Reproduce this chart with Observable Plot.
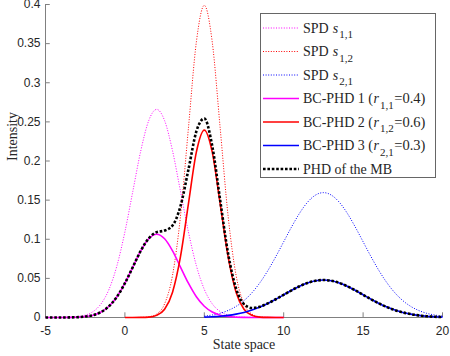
<!DOCTYPE html>
<html><head><meta charset="utf-8">
<script src="https://cdn.jsdelivr.net/npm/d3@7"></script>
<script src="https://cdn.jsdelivr.net/npm/@observablehq/plot@0.6"></script>
<style>body{margin:0;background:#fff} svg{display:block}</style>
</head><body><div id="chart"></div>
<script>
// ---- data ----
const xTicks = [-5, 0, 5, 10, 15, 20];
const yTicks = [0, 0.05, 0.1, 0.15, 0.2, 0.25, 0.3, 0.35, 0.4];

const xMag = [-5,-4.5,-4,-3.5,-3,-2.5,-2,-1.5,-1,-0.5,0,0.5,1,1.5,2,2.5,3,3.5,4,4.5,5,5.5,6,6.5,7,7.5,8,8.5,9,9.5,10];
const s11 = [0,0,0.0001,0.0003,0.001,0.003,0.0076,0.0175,0.036,0.0663,0.1094,0.1613,0.213,0.2516,0.266,0.2516,0.213,0.1613,0.1094,0.0663,0.036,0.0175,0.0076,0.003,0.001,0.0003,0.0001,0,0,0,0];
const r11 = [0,0,0,0.0001,0.0004,0.0012,0.003,0.007,0.0144,0.0265,0.0438,0.0645,0.0852,0.1006,0.1064,0.1006,0.0852,0.0645,0.0438,0.0265,0.0144,0.007,0.003,0.0012,0.0004,0.0001,0,0,0,0,0];

const xRed = [0,0.5,1,1.5,2,2.5,3,3.5,4,4.5,5,5.5,6,6.5,7,7.5,8,8.5,9,9.5,10];
const s12 = [0,0,0.0001,0.0009,0.0044,0.0175,0.054,0.1295,0.242,0.3521,0.3989,0.3521,0.242,0.1295,0.054,0.0175,0.0044,0.0009,0.0001,0,0];
const r12 = [0,0,0.0001,0.0005,0.0027,0.0105,0.0324,0.0777,0.1452,0.2113,0.2394,0.2113,0.1452,0.0777,0.0324,0.0105,0.0027,0.0005,0.0001,0,0];

const xBlue = [5,5.5,6,6.5,7,7.5,8,8.5,9,9.5,10,10.5,11,11.5,12,12.5,13,13.5,14,14.5,15,15.5,16,16.5,17,17.5,18,18.5,19,19.5,20];
const s21 = [0.0018,0.0032,0.0054,0.009,0.0142,0.0216,0.0316,0.0444,0.0599,0.0777,0.0968,0.1159,0.1333,0.1473,0.1564,0.1596,0.1564,0.1473,0.1333,0.1159,0.0968,0.0777,0.0599,0.0444,0.0316,0.0216,0.0142,0.009,0.0054,0.0032,0.0018];
const r21 = [0.0005,0.001,0.0016,0.0027,0.0043,0.0065,0.0095,0.0133,0.018,0.0233,0.029,0.0348,0.04,0.0442,0.0469,0.0479,0.0469,0.0442,0.04,0.0348,0.029,0.0233,0.018,0.0133,0.0095,0.0065,0.0043,0.0027,0.0016,0.001,0.0005];

const xAll = [-5,-4.5,-4,-3.5,-3,-2.5,-2,-1.5,-1,-0.5,0,0.5,1,1.5,2,2.5,3,3.5,4,4.5,5,5.5,6,6.5,7,7.5,8,8.5,9,9.5,10,10.5,11,11.5,12,12.5,13,13.5,14,14.5,15,15.5,16,16.5,17,17.5,18,18.5,19,19.5,20];
const phd = [0,0,0,0.0001,0.0004,0.0012,0.003,0.007,0.0144,0.0265,0.0438,0.0645,0.0853,0.1011,0.1091,0.1111,0.1176,0.1422,0.189,0.2378,0.2543,0.2192,0.1498,0.0816,0.0371,0.0171,0.0122,0.0138,0.0181,0.0233,0.029,0.0348,0.04,0.0442,0.0469,0.0479,0.0469,0.0442,0.04,0.0348,0.029,0.0233,0.018,0.0133,0.0095,0.0065,0.0043,0.0027,0.0016,0.001,0.0005];

// ---- styles ----
const thinDot = {strokeWidth: 1, strokeDasharray: "1 1.6"};
const solid = {strokeWidth: 1.6};
const thickDot = {strokeWidth: 2.6, strokeDasharray: "2.6 1.8"};

const series = [
  {xs: xMag, ys: s11, color: "#ff00ff", st: thinDot, label: [["SPD "], ["s", "i"], ["1,1", "sub"]]},
  {xs: xRed, ys: s12, color: "#ff0000", st: thinDot, label: [["SPD "], ["s", "i"], ["1,2", "sub"]]},
  {xs: xBlue, ys: s21, color: "#0000ff", st: thinDot, label: [["SPD "], ["s", "i"], ["2,1", "sub"]]},
  {xs: xMag, ys: r11, color: "#ff00ff", st: solid, label: [["BC-PHD 1 ("], ["r", "i"], ["1,1", "sub"], ["=0.4)", "up"]]},
  {xs: xRed, ys: r12, color: "#ff0000", st: solid, label: [["BC-PHD 2 ("], ["r", "i"], ["1,2", "sub"], ["=0.6)", "up"]]},
  {xs: xBlue, ys: r21, color: "#0000ff", st: solid, label: [["BC-PHD 3 ("], ["r", "i"], ["2,1", "sub"], ["=0.3)", "up"]]},
  {xs: xAll, ys: phd, color: "#000000", st: thickDot, label: [["PHD of the MB"]]}
];

const axisColor = "#808080";
const textColor = "#262626";
const serif = "'Liberation Serif', 'Times New Roman', serif";

const marks = [
  Plot.ruleY([0], {stroke: axisColor}),
  Plot.ruleX([-5], {stroke: axisColor}),
  Plot.ruleX(xTicks, {x: d => d, y1: 0, y2: 0.006, stroke: axisColor}),
  Plot.ruleY(yTicks, {y: d => d, x1: -5, x2: -4.7, stroke: axisColor}),
  Plot.axisX({ticks: xTicks, tickSize: 0, tickPadding: 9, tickFormat: d => String(d), label: null, fill: textColor}),
  Plot.axisY({ticks: yTicks, tickSize: 0, tickPadding: 5, tickFormat: d => String(d), label: null, fill: textColor}),
  Plot.text(["State space"], {frameAnchor: "bottom", dy: 31, fontFamily: serif, fontSize: 14, fill: textColor}),
  Plot.text(["Intensity"], {frameAnchor: "left", dx: -33, rotate: -90, fontFamily: serif, fontSize: 14, fill: textColor})
];
for (const s of series) {
  const rows = s.xs.map((x, i) => ({x, y: s.ys[i]}));
  marks.push(Plot.line(rows, {x: "x", y: "y", stroke: s.color, curve: "monotone-x", strokeLinecap: "butt", ...s.st}));
}

const chart = Plot.plot({
  width: 450, height: 356,
  marginLeft: 45, marginRight: 8, marginTop: 4, marginBottom: 39,
  x: {domain: [-5, 20]},
  y: {domain: [0, 0.4]},
  style: {fontFamily: "'Liberation Sans', Arial, sans-serif", fontSize: "12px", background: "#fff"},
  marks
});
document.getElementById("chart").appendChild(chart);

// ---- legend ----
const svg = d3.select(chart);
const lg = svg.append("g").attr("text-anchor", "start");
lg.append("rect").attr("x", 260.5).attr("y", 13.5).attr("width", 175).attr("height", 164)
  .attr("fill", "#fff").attr("stroke", "#666");
series.forEach((s, i) => {
  const y = 28 + i * 23.5;
  const ln = lg.append("line").attr("x1", 263).attr("x2", 299).attr("y1", y).attr("y2", y)
    .attr("stroke", s.color).attr("stroke-width", s.st.strokeWidth).attr("stroke-linecap", "butt");
  if (s.st.strokeDasharray) ln.attr("stroke-dasharray", s.st.strokeDasharray);
  const t = lg.append("text").attr("x", 303).attr("y", y + 4.5).attr("text-anchor", "start")
    .attr("font-family", serif).attr("font-size", 14).attr("fill", textColor);
  for (const [str, kind] of s.label) {
    const sp = t.append("tspan").text(str);
    if (kind === "i") sp.attr("font-style", "italic").attr("dx", 0.5);
    if (kind === "sub") sp.attr("font-size", 11).attr("dy", 5.5).attr("dx", 1);
    if (kind === "up") sp.attr("dy", -5.5).attr("dx", 0.5).attr("font-size", 14.5);
  }
});
</script></body></html>
